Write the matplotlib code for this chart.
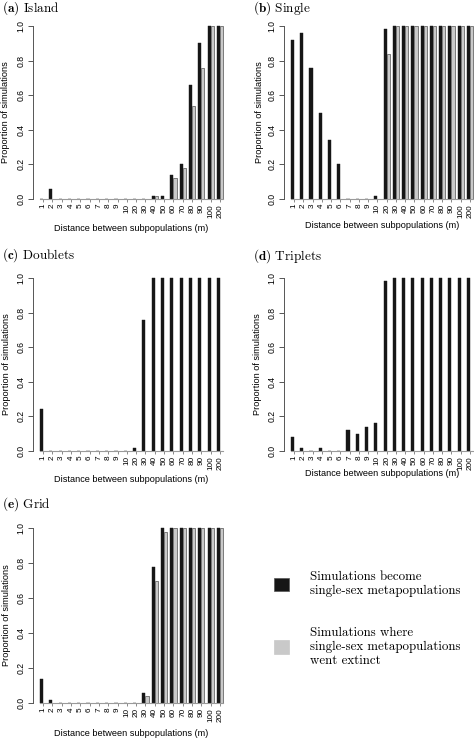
import numpy as np
import matplotlib
matplotlib.use("Agg")
import matplotlib.pyplot as plt
from matplotlib.patches import Patch

plt.rcParams['font.family'] = ['Liberation Sans', 'DejaVu Sans']
plt.rcParams['mathtext.fontset'] = 'cm'

categories = ['1', '2', '3', '4', '5', '6', '7', '8', '9', '10',
              '20', '30', '40', '50', '60', '70', '80', '90', '100', '200']

island_single = [0, 0.06, 0, 0, 0, 0, 0, 0, 0, 0, 0, 0, 0.02, 0.02, 0.14, 0.20, 0.66, 0.90, 1.0, 1.0]
island_extinct = [0, 0, 0, 0, 0, 0, 0, 0, 0, 0, 0, 0, 0.02, 0, 0.12, 0.18, 0.54, 0.76, 1.0, 1.0]

single_single = [0.92, 0.96, 0.76, 0.50, 0.34, 0.20, 0, 0, 0, 0.02, 0.98, 1, 1, 1, 1, 1, 1, 1, 1, 1]
single_extinct = [0, 0, 0, 0, 0, 0, 0, 0, 0, 0, 0.84, 1, 1, 1, 1, 1, 1, 1, 1, 1]

doublets_single = [0.24, 0, 0, 0, 0, 0, 0, 0, 0, 0, 0.02, 0.76, 1, 1, 1, 1, 1, 1, 1, 1]
doublets_extinct = [0] * 20

triplets_single = [0.08, 0.02, 0, 0.02, 0, 0, 0.12, 0.10, 0.14, 0.16, 0.98, 1, 1, 1, 1, 1, 1, 1, 1, 1]
triplets_extinct = [0] * 20

grid_single = [0.14, 0.02, 0, 0, 0, 0, 0, 0, 0, 0, 0, 0.06, 0.78, 1.0, 1, 1, 1, 1, 1, 1]
grid_extinct = [0, 0, 0, 0, 0, 0, 0, 0, 0, 0, 0, 0.04, 0.70, 0.98, 1, 1, 1, 1, 1, 1]

panel_letters = ['(a)', '(b)', '(c)', '(d)', '(e)']
panel_names = ['Island', 'Single', 'Doublets', 'Triplets', 'Grid']
legend_labels = ['Simulations become\nsingle-sex metapopulations',
                 'Simulations where\nsingle-sex metapopulations\nwent extinct']

W, H = 474, 740
fig = plt.figure(figsize=(W / 100, H / 100), dpi=100)

BLACK = '#161616'
GREY = '#c9c9c9'

XLIM = (-2.36, 61.36)
YLIM = (-0.04, 1.04)

# layout in pixels: (x of first tick, x of last tick, y of 0, y of 1, ylabel x, xlabel y, title x, title y)
layouts = [
    (43, 220, 199, 26, 6, 229, 2, 8),
    (294, 470, 199, 26, 259, 225, 253, 8),
    (43, 220, 451, 278, 7, 480, 2, 255),
    (294, 470, 451, 278, 257, 474, 253, 256),
    (43, 220, 703, 528, 7, 733, 2, 504),
]

datasets = [(island_single, island_extinct), (single_single, single_extinct),
            (doublets_single, doublets_extinct), (triplets_single, triplets_extinct),
            (grid_single, grid_extinct)]

n = len(categories)
centers = np.arange(n) * 3 + 1.0

for k, ((blk, gry), lay) in enumerate(zip(datasets, layouts)):
    t1, t2, y0, y1, ylx, xly, tx, ty = lay
    sx = (t2 - t1) / (centers[-1] - centers[0])
    left = t1 - (centers[0] - XLIM[0]) * sx
    right = t2 + (XLIM[1] - centers[-1]) * sx
    sy = y0 - y1
    bottom = y0 + (0 - YLIM[0]) * sy
    top = y1 - (YLIM[1] - 1) * sy
    ax = fig.add_axes([left / W, 1 - bottom / H, (right - left) / W, (bottom - top) / H])
    ax.bar(centers - 0.5, blk, width=1.0, color=BLACK, edgecolor=BLACK, linewidth=0.3)
    ax.bar(centers + 0.5, gry, width=1.0, color=GREY, edgecolor='#6a6a6a', linewidth=0.6)
    ax.set_xlim(*XLIM)
    ax.set_ylim(*YLIM)
    for s in ['top', 'right']:
        ax.spines[s].set_visible(False)
    ax.spines['left'].set_bounds(0, 1)
    ax.spines['left'].set_color('#555555')
    ax.spines['left'].set_linewidth(0.7)
    ax.spines['bottom'].set_position(('data', 0))
    ax.spines['bottom'].set_bounds(centers[0] - 1, centers[-1] + 1)
    ax.spines['bottom'].set_color('#9a9a9a')
    ax.spines['bottom'].set_linewidth(0.8)
    ax.set_yticks([0, 0.2, 0.4, 0.6, 0.8, 1.0])
    ax.set_yticklabels(['0.0', '0.2', '0.4', '0.6', '0.8', '1.0'])
    plt.setp(ax.get_yticklabels(), rotation=90, va='center')
    ax.set_xticks(centers)
    ax.set_xticklabels(categories, rotation=90)
    ax.tick_params(axis='y', length=3.5, width=0.7, color='#555555', labelsize=6.2, pad=1.5)
    ax.tick_params(axis='x', length=2.5, width=0.6, color='#777777', labelsize=5.9, pad=1.0)
    ax.set_xlabel('Distance between subpopulations (m)', fontsize=6.6, va='center')
    ax.xaxis.set_label_coords(0.5, (bottom - xly) / (bottom - top))
    ax.set_ylabel('Proportion of simulations', fontsize=6.6, va='center')
    ax.yaxis.set_label_coords((ylx - left) / (right - left), 0.5)
    fig.text(tx / W, 1 - ty / H, r'$\mathbf{' + panel_letters[k] + r'}$ ' + panel_names[k],
             family='cmr10', fontsize=9.5, ha='left', va='center')

handles = [Patch(facecolor=BLACK, edgecolor='#555555', linewidth=0.5),
           Patch(facecolor=GREY, edgecolor=GREY, linewidth=0.5)]
fig.legend(handles, legend_labels, loc='center left',
           bbox_to_anchor=(262 / W, 1 - 619 / H), frameon=False,
           prop={'family': 'cmr10', 'size': 9.3},
           handlelength=1.2, handleheight=1.2, handletextpad=1.58,
           labelspacing=2.3)

fig.savefig('out.png', dpi=100)
